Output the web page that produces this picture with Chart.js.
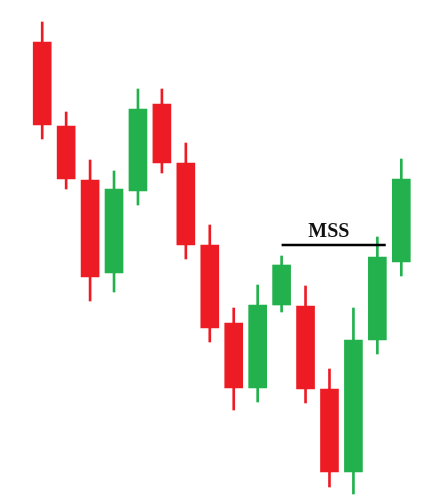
<!DOCTYPE html>
<html>
<head>
<meta charset="utf-8">
<title>MSS candles</title>
<script src="https://cdn.jsdelivr.net/npm/chart.js@4.4.1/dist/chart.umd.min.js"></script>
<style>
  html, body { margin: 0; padding: 0; background: #ffffff; }
  #wrap { width: 433px; height: 503px; }
</style>
</head>
<body>
<div id="wrap"><canvas id="mssChart" width="433" height="503"></canvas></div>
<script>
// Données des bougies
const opens  = [146.1, 137.7, 132.3, 123.0, 131.2, 139.9, 134.0, 125.8, 118.0, 111.5, 119.8, 119.7, 111.4, 103.1, 116.3, 124.1];
const closes = [137.8, 132.4, 122.6, 131.4, 139.4, 134.0, 125.8, 117.5, 111.5, 119.8, 123.8, 111.4, 103.1, 116.3, 124.6, 132.4];
const highs  = [148.1, 139.1, 134.3, 133.2, 141.4, 141.4, 136.0, 127.8, 119.5, 121.8, 124.7, 121.7, 113.4, 119.5, 126.6, 134.4];
const lows   = [136.4, 131.4, 120.2, 121.1, 129.8, 133.0, 124.4, 116.1, 109.3, 110.1, 119.1, 110.0, 101.6, 100.9, 114.9, 122.7];

// Niveau MSS et ses bornes (en index de bougie)
const mssLevel = 125.8;
const mssFrom = 10;
const mssTo = 14.35;
const mssLabel = 'MSS';

const UP = '#22b14c';
const DOWN = '#ed1c24';

const candleColors = opens.map((o, i) => closes[i] >= o ? UP : DOWN);
const bodies = opens.map((o, i) => ({ x: i, y: [o, closes[i]] }));
const wicks = lows.map((l, i) => ({ x: i, y: [l, highs[i]] }));

// Petit plugin pour écrire le texte MSS au-dessus de la ligne
const mssTextPlugin = {
    id: 'mssText',
    afterDatasetsDraw(chart) {
        const { ctx, scales } = chart;
        const x = scales.x.getPixelForValue((mssFrom + mssTo) / 2 - 0.2);
        const y = scales.y.getPixelForValue(mssLevel);
        ctx.save();
        ctx.font = 'bold 20px "Liberation Serif", "DejaVu Serif", serif';
        ctx.fillStyle = '#111111';
        ctx.textAlign = 'center';
        ctx.textBaseline = 'alphabetic';
        ctx.fillText(mssLabel, x, y - 8);
        ctx.restore();
    }
};

const ctx = document.getElementById('mssChart').getContext('2d');
new Chart(ctx, {
    type: 'bar',
    data: {
        datasets: [
            {
                label: 'Corps',
                data: bodies,
                backgroundColor: candleColors,
                borderWidth: 0,
                borderSkipped: false,
                barThickness: 18,
                grouped: false,
                order: 1
            },
            {
                label: 'Mèches',
                data: wicks,
                backgroundColor: candleColors,
                borderWidth: 0,
                borderSkipped: false,
                barThickness: 2,
                grouped: false,
                order: 2
            },
            {
                type: 'line',
                label: 'MSS',
                data: [{ x: mssFrom, y: mssLevel }, { x: mssTo, y: mssLevel }],
                borderColor: '#000000',
                borderWidth: 2.5,
                pointRadius: 0,
                order: 0
            }
        ]
    },
    options: {
        responsive: false,
        animation: false,
        layout: { padding: 0 },
        scales: {
            x: {
                type: 'linear',
                display: false,
                offset: false,
                min: -1.763,
                max: 16.324
            },
            y: {
                display: false,
                min: 100,
                max: 150.3
            }
        },
        plugins: {
            legend: { display: false },
            tooltip: { enabled: false }
        }
    },
    plugins: [mssTextPlugin]
});
</script>
</body>
</html>
